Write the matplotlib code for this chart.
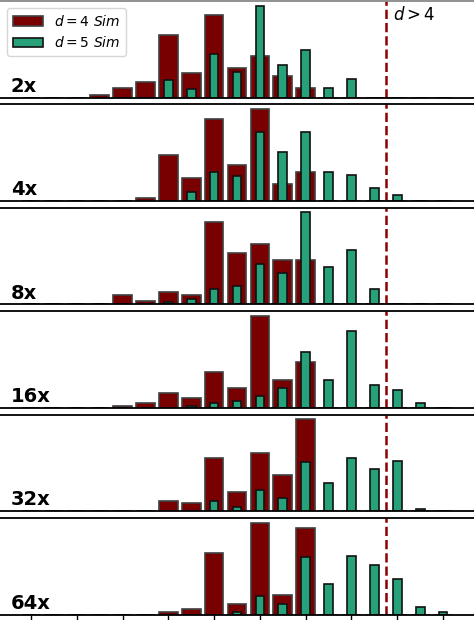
import numpy as np
import matplotlib.pyplot as plt
import matplotlib.transforms as mtransforms

# ---------------------------
# Data (bin index 0..18, relative counts)
# ---------------------------
bins = np.arange(19)
labels = ["2x", "4x", "8x", "16x", "32x", "64x"]

d4_2x  = [0, 0, 0, 3, 9.6, 15.6, 63, 24.6, 83.3, 30, 42, 21.3, 9.6, 0, 0, 0, 0, 0, 0]
d5_2x  = [0, 0, 0, 0, 0, 0, 17.6, 8.6, 44.3, 26.3, 92.6, 33, 48, 9.3, 18.3, 0, 0, 0, 0]

d4_4x  = [0, 0, 0, 0, 0, 3.3, 46, 22.7, 82, 36.3, 92, 16.7, 29.3, 0, 0, 0, 0, 0, 0]
d5_4x  = [0, 0, 0, 0, 0, 0, 0, 9.3, 28.7, 25.3, 68.7, 49.3, 69, 29.3, 26.3, 13, 6.3, 0, 0]

d4_8x  = [0, 0, 0, 0, 9.3, 3.3, 12.7, 9.3, 82.3, 51, 60.3, 44.3, 44.3, 0, 0, 0, 0, 0, 0]
d5_8x  = [0, 0, 0, 0, 0, 0, 2.7, 5.7, 15.3, 18.3, 40.3, 31, 92, 37.7, 54, 15.7, 0, 0, 0]

d4_16x = [0, 0, 0, 0, 2, 5, 15, 9.7, 35.3, 20, 91.7, 27.7, 45.7, 0, 0, 0, 0, 0, 0]
d5_16x = [0, 0, 0, 0, 0, 0, 0, 2, 4.7, 6.7, 11.7, 19.7, 55.7, 27.7, 76.3, 22.7, 17.7, 4.7, 0]

d4_32x = [0, 0, 0, 0, 0, 0, 10.7, 8, 52.7, 19.3, 58.3, 36, 91.7, 0, 0, 0, 0, 0, 0]
d5_32x = [0, 0, 0, 0, 0, 0, 0, 0, 10, 4.3, 21.3, 13, 49.3, 27.7, 52.7, 41.7, 50, 2.3, 0]

d4_64x = [0, 0, 0, 0, 0, 0, 2.7, 5.3, 61.3, 11, 92, 19.3, 86.7, 0, 0, 0, 0, 0, 0]
d5_64x = [0, 0, 0, 0, 0, 0, 0, 0, 0, 2.3, 18.7, 10.3, 58, 30.7, 58.7, 50, 36, 8, 3]

d4_all = [d4_2x, d4_4x, d4_8x, d4_16x, d4_32x, d4_64x]
d5_all = [d5_2x, d5_4x, d5_8x, d5_16x, d5_32x, d5_64x]

threshold_bin = 15.5   # d > 4 boundary

# ---------------------------
# Style
# ---------------------------
RED = "#780000"
GREEN = "#26a17a"

fig = plt.figure(figsize=(4.74, 6.2), dpi=100)
gs = fig.add_gridspec(6, 1, left=0.0, right=1.0, top=1 - 1.0 / 620,
                      bottom=1 - 614.7 / 620, hspace=0.07)
axs = [fig.add_subplot(gs[i]) for i in range(6)]

for i, ax in enumerate(axs):
    ax.bar(bins, d4_all[i], width=0.82, color=RED, edgecolor="#404040",
           linewidth=1.2, label=r"$d=4\ Sim$")
    ax.bar(bins, d5_all[i], width=0.38, color=GREEN, edgecolor="#111111",
           linewidth=1.2, label=r"$d=5\ Sim$")
    ax.axvline(threshold_bin, color="#8b0000", linestyle="--", linewidth=1.8)

    ax.set_xlim(-1.35, 19.35)
    ax.set_yticks([])
    ax.spines["left"].set_visible(False)
    ax.spines["right"].set_visible(False)
    for s in ("top", "bottom"):
        ax.spines[s].set_linewidth(1.3)

    ax.text(0.023, 0.06, labels[i], transform=ax.transAxes, fontsize=14,
            fontweight="bold", va="baseline", ha="left")

    if i < 5:
        ax.set_xticks([])
    else:
        ax.set_xticks(bins[::2])
        ax.tick_params(axis="x", direction="out", length=4, width=1,
                       labelbottom=False)

axs[0].spines["top"].set_color("#888888")

axs[0].legend(loc="upper left", fontsize=10, handlelength=2.2,
              borderaxespad=0.5)

trans = mtransforms.blended_transform_factory(axs[0].transData, axs[0].transAxes)
axs[0].text(15.8, 0.80, r"$d > 4$", transform=trans, fontsize=12,
            va="baseline", ha="left")

fig.savefig("out.png", dpi=100)
